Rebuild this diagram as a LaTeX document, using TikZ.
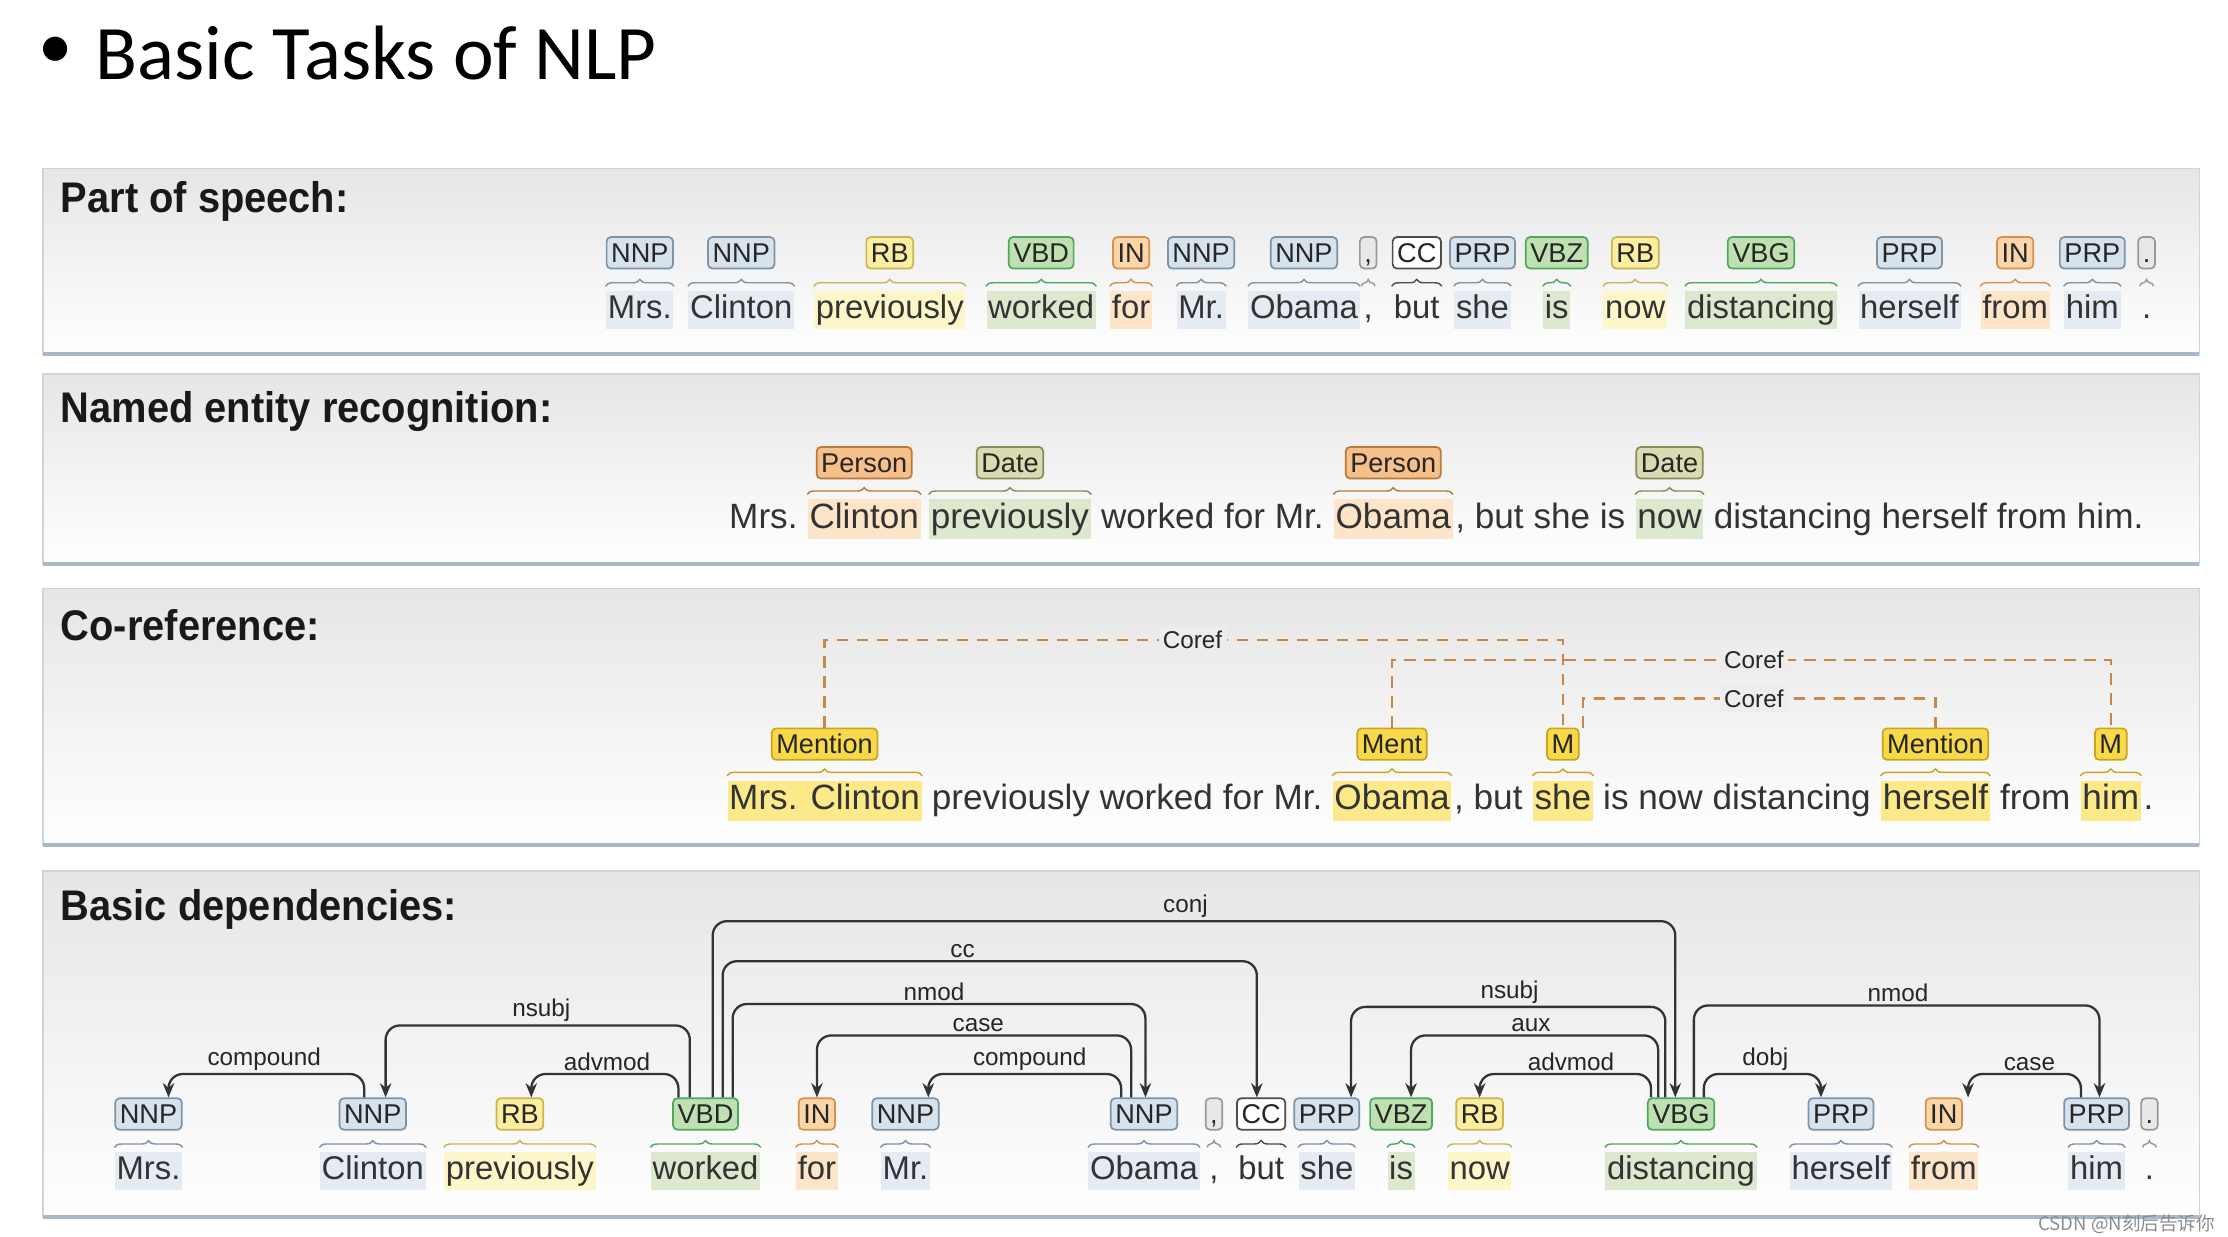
\documentclass[tikz,border=0pt]{standalone}
\usepackage{fontspec}
\setmainfont{Liberation Sans}
\newfontfamily\ttlf{Carlito}
\newfontfamily\cjkf{Noto Sans CJK SC}
\usetikzlibrary{decorations.pathreplacing,arrows.meta,calc}
\definecolor{blueF}{HTML}{D6E2EC}\definecolor{blueD}{HTML}{7D93A8}\definecolor{blueW}{HTML}{E4EBF2}
\definecolor{yelF}{HTML}{FBEEA0}\definecolor{yelD}{HTML}{C9B458}\definecolor{yelW}{HTML}{FDF6C8}
\definecolor{grnF}{HTML}{BFE0B0}\definecolor{grnD}{HTML}{4FA860}\definecolor{grnW}{HTML}{DCE9CF}
\definecolor{orF}{HTML}{FCD5A8}\definecolor{orD}{HTML}{D8904A}\definecolor{orW}{HTML}{FDE5CA}
\definecolor{punF}{HTML}{E8E8E8}\definecolor{punD}{HTML}{999999}
\definecolor{perF}{HTML}{F6C08A}\definecolor{perD}{HTML}{B87A3A}
\definecolor{datF}{HTML}{D9DCB0}\definecolor{datD}{HTML}{8A8A5A}
\definecolor{menF}{HTML}{F8D94A}\definecolor{menD}{HTML}{C9A520}\definecolor{menW}{HTML}{FBE98A}
\definecolor{corefC}{HTML}{C8884A}\definecolor{panelL}{HTML}{A7B9C9}\definecolor{panelT}{HTML}{E6E6E6}
\definecolor{depC}{HTML}{333333}
\newcommand\tagf{\fontsize{9.5}{10}\selectfont}
\newcommand\wordf{\fontsize{11.5}{13}\selectfont}
\newcommand\wordg{\fontsize{12.3}{14}\selectfont}
\newcommand\labf{\fontsize{8.5}{9}\selectfont}
\def\mygap{2.6pt}
\tikzset{
 tag/.style={draw, rounded corners=1.5pt, inner sep=1.6pt, font=\tagf, text height=7.2pt, text depth=0.6pt, line width=0.6pt, text=black!85},
 word/.style={inner xsep=0.6pt, inner ysep=1pt, font=\wordf, text height=8.6pt, text depth=2.6pt, text=black!80},
 sword/.style={word, font=\wordg, text height=9.2pt, text depth=2.8pt},
 brc/.style={decorate, decoration={brace, amplitude=2.4pt}, line width=0.5pt},
 tblue/.style={tag, fill=blueF, draw=blueD}, wblue/.style={word, fill=blueW}, bblue/.style={brc, draw=blueD},
 tyel/.style={tag, fill=yelF, draw=yelD}, wyel/.style={word, fill=yelW}, byel/.style={brc, draw=yelD},
 tgrn/.style={tag, fill=grnF, draw=grnD}, wgrn/.style={word, fill=grnW}, bgrn/.style={brc, draw=grnD},
 tor/.style={tag, fill=orF, draw=orD}, wor/.style={word, fill=orW}, bor/.style={brc, draw=orD},
 tcc/.style={tag, fill=white, draw=black!70}, wcc/.style={word}, bcc/.style={brc, draw=black!70},
 tpun/.style={tag, fill=punF, draw=punD}, wpun/.style={word}, bpun/.style={brc, draw=punD},
 tper/.style={tag, fill=perF, draw=perD}, tdat/.style={tag, fill=datF, draw=datD},
 tmen/.style={tag, fill=menF, draw=menD},
 panel/.style={top color=panelT, bottom color=white, draw=panelL!60, line width=0.6pt},
 head/.style={anchor=west, font=\fontsize{15}{17}\selectfont\bfseries, xscale=0.93, text=black!90},
 dep/.style={draw=depC, line width=0.8pt, rounded corners=5pt, -{Stealth[length=5pt,width=4pt]}},
 lab/.style={anchor=south, font=\labf, inner sep=1pt, text=black!85},
 coref/.style={draw=corefC, line width=0.8pt, dash pattern=on 4pt off 3pt},
 clab/.style={font=\labf, fill=white!93!black, inner sep=1.5pt, text=black!85},
}
\newcommand\tok[7]{\node[t#5] (#1t) at (#2,#3) {#6};\node[w#5] (#1w) at (#2,#4) {#7};\draw[b#5] ([yshift=1.5pt]#1w.north west) -- ([yshift=1.5pt]#1w.north east);}
\newcommand\ch[5]{\node[#4, anchor=base west] (#1) at ([xshift=#3]#2.base east) {#5};}
\newcommand\dep[7]{\draw[dep] (#1.north -| #2,0) |- (#4,#5) -- (#3.north -| #4,0);\node[lab] (L-#1-#4) at (#7,#5) {#6};}
\newcommand\hb[2]{\draw[brc, draw=#2] ([yshift=1.5pt]#1.north west) -- ([yshift=1.5pt]#1.north east);}
\begin{document}
\begin{tikzpicture}[x=0.5pt,y=-0.5pt]
\useasboundingbox (0,0) rectangle (1560,866);
\fill[white] (0,0) rectangle (1560,866);
% title
\node[anchor=west, font=\ttlf\fontsize{24}{28}\selectfont] (bul) at (20,37) {•};
\node[anchor=west, font=\ttlf\fontsize{27}{30}\selectfont] (title) at (60,37) {Basic Tasks of NLP};
% panels
\foreach \a/\b in {118/248, 262/395, 412/592, 610/852}{
  \shade[panel] (30,\a) rectangle (1540,\b);
  \draw[panelL, line width=1.4pt] (30,\b) -- (1540,\b);
}
\node[head] (h1) at (36,141) {Part of speech:};
\node[head] (h2) at (36,288) {Named entity recognition:};
\node[head] (h3) at (36,438) {Co-reference:};
\node[head] (h4) at (36,637) {Basic dependencies:};
% POS
\tok{p1}{448}{177}{217}{blue}{NNP}{Mrs.}
\tok{p2}{519}{177}{217}{blue}{NNP}{Clinton}
\tok{p3}{623}{177}{217}{yel}{RB}{previously}
\tok{p4}{729}{177}{217}{grn}{VBD}{worked}
\tok{p5}{792}{177}{217}{or}{IN}{for}
\tok{p6}{841}{177}{217}{blue}{NNP}{Mr.}
\tok{p7}{913}{177}{217}{blue}{NNP}{Obama}
\tok{p8}{958}{177}{217}{pun}{,}{,}
\tok{p9}{992}{177}{217}{cc}{CC}{but}
\tok{p10}{1038}{177}{217}{blue}{PRP}{she}
\tok{p11}{1090}{177}{217}{grn}{VBZ}{is}
\tok{p12}{1145}{177}{217}{yel}{RB}{now}
\tok{p13}{1233}{177}{217}{grn}{VBG}{distancing}
\tok{p14}{1337}{177}{217}{blue}{PRP}{herself}
\tok{p15}{1411}{177}{217}{or}{IN}{from}
\tok{p16}{1465}{177}{217}{blue}{PRP}{him}
\tok{p17}{1503}{177}{217}{pun}{.}{.}
% NER
\node[sword, anchor=base west] (n1) at (509,370) {Mrs.};
\ch{n2}{n1}{\mygap}{sword,fill=orW}{Clinton}
\ch{n3}{n2}{\mygap}{sword,fill=grnW}{previously}
\ch{n4}{n3}{\mygap}{sword}{worked for Mr.}
\ch{n5}{n4}{\mygap}{sword,fill=orW}{Obama}
\ch{n6}{n5}{0pt}{sword}{, but she is}
\ch{n7}{n6}{\mygap}{sword,fill=grnW}{now}
\ch{n8}{n7}{\mygap}{sword}{distancing herself from him.}
\node[tper] (n2t) at (n2.center |- 0,324) {Person};
\node[tdat] (n3t) at (n3.center |- 0,324) {Date};
\node[tper] (n5t) at (n5.center |- 0,324) {Person};
\node[tdat] (n7t) at (n7.center |- 0,324) {Date};
\hb{n2}{perD}\hb{n3}{datD}\hb{n5}{perD}\hb{n7}{datD}
% Coref
\node[sword, anchor=base west, fill=menW] (r1) at (509,567) {Mrs. Clinton};
\ch{r2}{r1}{\mygap}{sword}{previously worked for Mr.}
\ch{r3}{r2}{\mygap}{sword,fill=menW}{Obama}
\ch{r4}{r3}{0pt}{sword}{, but}
\ch{r5}{r4}{\mygap}{sword,fill=menW}{she}
\ch{r6}{r5}{\mygap}{sword}{is now distancing}
\ch{r7}{r6}{\mygap}{sword,fill=menW}{herself}
\ch{r8}{r7}{\mygap}{sword}{from}
\ch{r9}{r8}{\mygap}{sword,fill=menW}{him}
\ch{r10}{r9}{0pt}{sword}{.}
\node[tmen] (m1) at (r1.center |- 0,521) {Mention};
\node[tmen] (m2) at (r3.center |- 0,521) {Ment};
\node[tmen] (m3) at (r5.center |- 0,521) {M};
\node[tmen] (m4) at (r7.center |- 0,521) {Mention};
\node[tmen] (m5) at (r9.center |- 0,521) {M};
\hb{r1}{menD}\hb{r3}{menD}\hb{r5}{menD}\hb{r7}{menD}\hb{r9}{menD}
\draw[coref] (m1.north) |- (m3.north |- 0,448) -- (m3.north);
\draw[coref] (m2.north) |- (m5.north |- 0,462) -- (m5.north);
\draw[coref] ([xshift=7pt]m3.north) |- (m4.north |- 0,489) -- (m4.north);
\node[clab] (c1) at (835,448) {Coref};
\node[clab] (c2) at (1228,462) {Coref};
\node[clab] (c3) at (1228,489) {Coref};
% Dependencies
\tok{d1}{104}{780}{820}{blue}{NNP}{Mrs.}
\tok{d2}{261}{780}{820}{blue}{NNP}{Clinton}
\tok{d3}{364}{780}{820}{yel}{RB}{previously}
\tok{d4}{494}{780}{820}{grn}{VBD}{worked}
\tok{d5}{572}{780}{820}{or}{IN}{for}
\tok{d6}{634}{780}{820}{blue}{NNP}{Mr.}
\tok{d7}{801}{780}{820}{blue}{NNP}{Obama}
\tok{d8}{850}{780}{820}{pun}{,}{,}
\tok{d9}{883}{780}{820}{cc}{CC}{but}
\tok{d10}{929}{780}{820}{blue}{PRP}{she}
\tok{d11}{981}{780}{820}{grn}{VBZ}{is}
\tok{d12}{1036}{780}{820}{yel}{RB}{now}
\tok{d13}{1177}{780}{820}{grn}{VBG}{distancing}
\tok{d14}{1289}{780}{820}{blue}{PRP}{herself}
\tok{d15}{1361}{780}{820}{or}{IN}{from}
\tok{d16}{1468}{780}{820}{blue}{PRP}{him}
\tok{d17}{1505}{780}{820}{pun}{.}{.}
\dep{d2t}{255}{d1t}{118}{752}{compound}{185}
\dep{d4t}{483}{d2t}{270}{718}{nsubj}{379}
\dep{d4t}{475}{d3t}{372}{752}{advmod}{425}
\dep{d4t}{499}{d13t}{1173}{645}{conj}{830}
\dep{d4t}{506}{d9t}{880}{673}{cc}{674}
\dep{d4t}{513}{d7t}{802}{703}{nmod}{654}
\dep{d7t}{792}{d5t}{572}{725}{case}{685}
\dep{d7t}{785}{d6t}{650}{752}{compound}{721}
\dep{d13t}{1166}{d10t}{946}{705}{nsubj}{1057}
\dep{d13t}{1161}{d11t}{988}{725}{aux}{1072}
\dep{d13t}{1156}{d12t}{1036}{752}{advmod}{1100}
\dep{d13t}{1186}{d16t}{1470}{704}{nmod}{1329}
\dep{d13t}{1193}{d14t}{1275}{752}{dobj}{1236}
\dep{d16t}{1457}{d15t}{1378}{752}{case}{1421}
\node[anchor=east, font=\cjkf\fontsize{6.5}{7}\selectfont, text=black!45] (wm) at (1558,857) {CSDN @N刻后告诉你};
\end{tikzpicture}
\end{document}
